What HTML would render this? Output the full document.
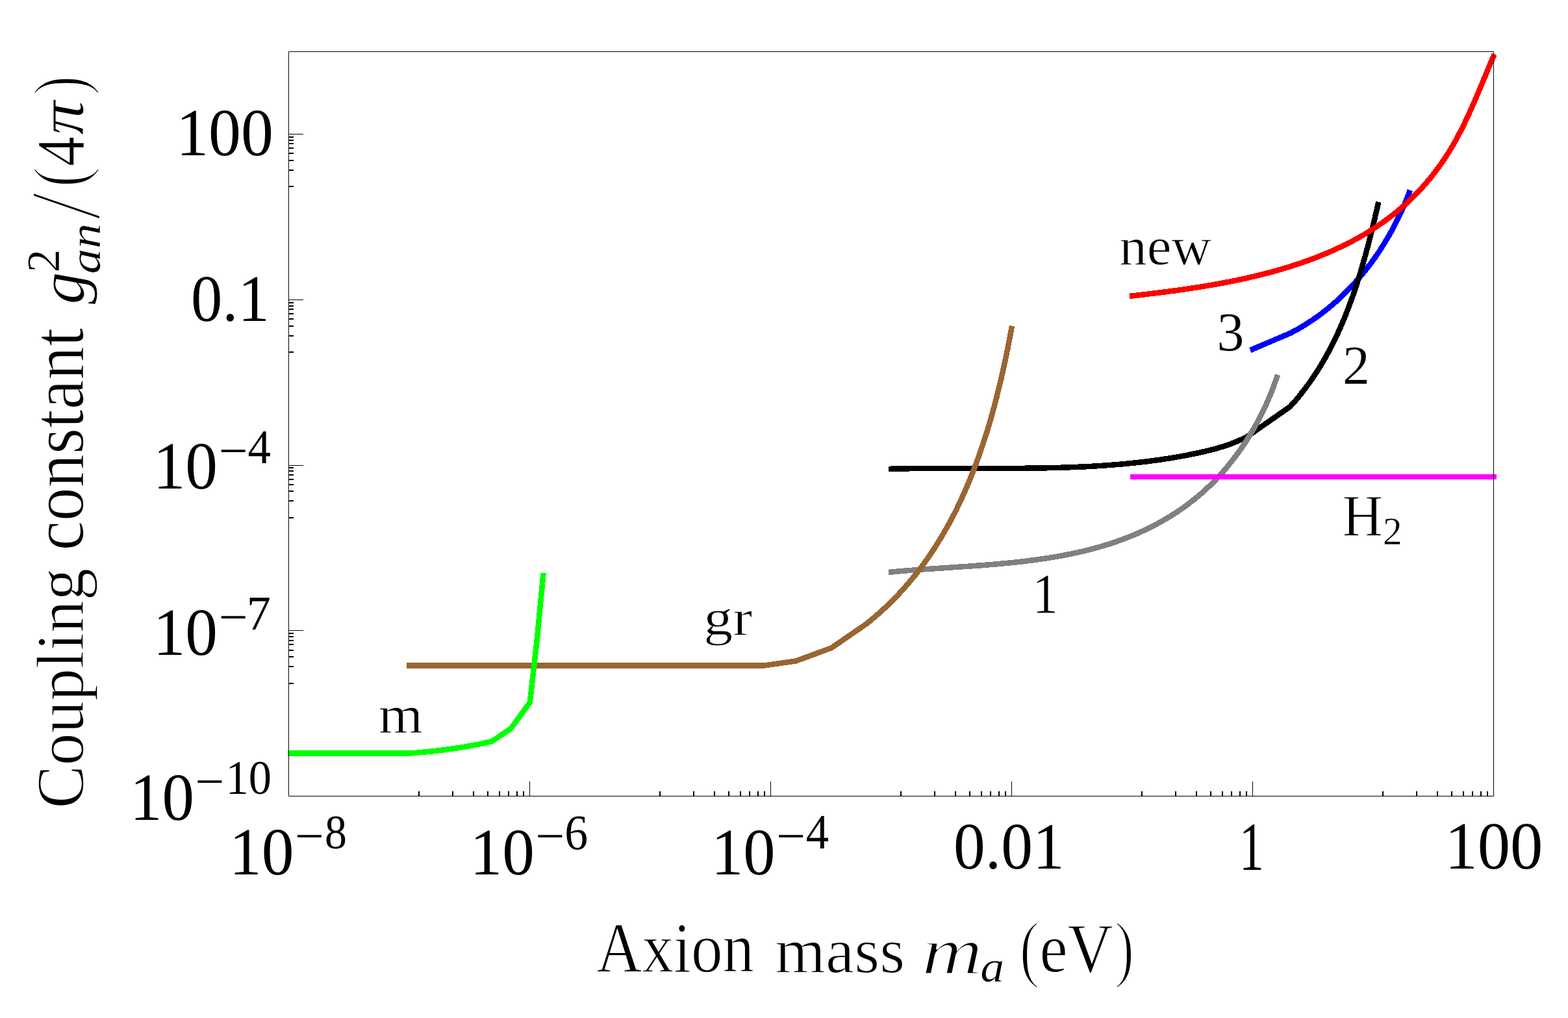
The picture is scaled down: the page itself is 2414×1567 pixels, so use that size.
<!DOCTYPE html><html><head><meta charset="utf-8"><title>Axion coupling constraints</title>
<style>html,body{margin:0;padding:0;background:#fff;overflow:hidden}svg{display:block}text{font-family:"Liberation Serif",serif;fill:#000}</style></head><body>
<svg width="2414" height="1567" viewBox="0 0 2414 1567">
<rect width="2414" height="1567" fill="#fff"/>
<path d="M1924.8,539.1 L1986.9,512.6 L1989.6,511.2 L1992.3,509.7 L1995.0,508.3 L1997.7,506.8 L2000.4,505.3 L2003.0,503.7 L2005.6,502.1 L2008.2,500.6 L2010.8,498.9 L2013.4,497.3 L2016.0,495.6 L2018.5,494.0 L2021.1,492.2 L2023.6,490.5 L2026.1,488.8 L2028.6,487.0 L2031.0,485.2 L2033.5,483.4 L2035.9,481.5 L2038.3,479.7 L2040.7,477.8 L2043.1,475.9 L2045.5,474.0 L2047.8,472.0 L2050.2,470.1 L2052.5,468.1 L2054.8,466.1 L2057.0,464.1 L2059.3,462.0 L2061.6,460.0 L2063.8,457.9 L2066.0,455.8 L2068.2,453.7 L2070.4,451.6 L2072.5,449.4 L2074.7,447.2 L2076.8,445.1 L2078.9,442.9 L2081.0,440.6 L2083.1,438.4 L2085.2,436.1 L2087.2,433.9 L2089.2,431.6 L2091.2,429.3 L2093.2,427.0 L2095.2,424.6 L2097.2,422.3 L2099.1,419.9 L2101.0,417.5 L2102.9,415.2 L2104.8,412.7 L2106.7,410.3 L2108.5,407.9 L2110.4,405.4 L2112.2,403.0 L2114.0,400.5 L2115.8,398.0 L2117.5,395.5 L2119.3,393.0 L2121.0,390.5 L2122.7,387.9 L2124.4,385.4 L2126.1,382.8 L2127.7,380.2 L2129.3,377.6 L2131.0,375.0 L2132.6,372.4 L2134.1,369.8 L2135.7,367.2 L2137.2,364.5 L2138.8,361.9 L2140.3,359.2 L2141.8,356.5 L2143.2,353.8 L2144.7,351.1 L2146.1,348.4 L2147.5,345.7 L2148.9,343.0 L2150.3,340.3 L2151.7,337.5 L2153.0,334.8 L2154.3,332.0 L2155.7,329.3 L2156.9,326.5 L2158.2,323.7 L2159.5,321.0 L2160.7,318.2 L2161.9,315.4 L2163.1,312.6 L2164.3,309.8 L2165.4,307.0 L2166.5,304.1 L2167.7,301.3 L2168.8,298.5 L2169.8,295.6 L2170.9,292.8" fill="none" stroke="#0000ff" stroke-width="8.5" stroke-linejoin="round" stroke-linecap="butt" shape-rendering="crispEdges"/>
<path d="M1368.2,721.9 L1371.2,721.8 L1374.2,721.7 L1377.2,721.7 L1380.2,721.6 L1383.2,721.5 L1386.2,721.5 L1389.2,721.4 L1392.3,721.4 L1395.3,721.3 L1398.3,721.3 L1401.3,721.2 L1404.3,721.2 L1407.3,721.1 L1410.3,721.1 L1413.4,721.1 L1416.4,721.0 L1419.4,721.0 L1422.4,721.0 L1425.4,721.0 L1428.4,720.9 L1431.5,720.9 L1434.5,720.9 L1437.5,720.9 L1440.5,720.9 L1443.6,720.9 L1446.6,720.9 L1449.6,720.9 L1452.6,720.8 L1455.7,720.8 L1458.7,720.8 L1461.7,720.8 L1464.8,720.8 L1467.8,720.8 L1470.8,720.8 L1473.9,720.8 L1476.9,720.8 L1479.9,720.9 L1482.9,720.9 L1486.0,720.9 L1489.0,720.9 L1492.1,720.9 L1495.1,720.9 L1498.1,720.9 L1501.2,720.9 L1504.2,720.9 L1507.2,720.9 L1510.3,720.9 L1513.3,720.9 L1516.3,720.9 L1519.4,720.9 L1522.4,720.9 L1525.4,720.9 L1528.5,720.9 L1531.5,720.9 L1534.6,720.9 L1537.6,720.9 L1540.6,720.9 L1543.7,720.9 L1546.7,720.9 L1549.8,720.9 L1552.8,720.9 L1555.8,720.9 L1558.9,720.9 L1561.9,720.9 L1565.0,720.9 L1568.0,720.8 L1571.0,720.8 L1574.1,720.8 L1577.1,720.8 L1580.1,720.7 L1583.2,720.7 L1586.2,720.7 L1589.3,720.6 L1592.3,720.6 L1595.3,720.6 L1598.4,720.5 L1601.4,720.5 L1604.4,720.4 L1607.5,720.4 L1610.5,720.3 L1613.6,720.2 L1616.6,720.2 L1619.6,720.1 L1622.7,720.0 L1625.7,720.0 L1628.7,719.9 L1631.8,719.8 L1634.8,719.7 L1637.8,719.6 L1640.9,719.5 L1643.9,719.4 L1646.9,719.3 L1650.0,719.2 L1653.0,719.1 L1656.0,718.9 L1659.0,718.8 L1662.1,718.7 L1665.1,718.5 L1668.1,718.4 L1671.2,718.3 L1674.2,718.1 L1677.2,717.9 L1680.2,717.8 L1683.3,717.6 L1686.3,717.4 L1689.3,717.2 L1692.3,717.1 L1695.3,716.9 L1698.4,716.7 L1701.4,716.5 L1704.4,716.2 L1707.4,716.0 L1710.4,715.8 L1713.5,715.6 L1716.5,715.3 L1719.5,715.1 L1722.5,714.8 L1725.5,714.6 L1728.5,714.3 L1731.5,714.0 L1734.5,713.7 L1737.5,713.4 L1740.5,713.1 L1743.6,712.8 L1746.6,712.5 L1749.6,712.2 L1752.6,711.9 L1755.6,711.5 L1758.6,711.2 L1761.6,710.8 L1764.6,710.5 L1767.6,710.1 L1770.5,709.7 L1773.5,709.3 L1776.5,708.9 L1779.5,708.5 L1782.5,708.1 L1785.5,707.7 L1788.5,707.2 L1791.5,706.8 L1794.5,706.3 L1797.4,705.9 L1800.4,705.4 L1803.4,704.9 L1806.4,704.4 L1809.3,703.9 L1812.3,703.4 L1815.3,702.9 L1818.3,702.4 L1821.2,701.8 L1824.2,701.3 L1827.2,700.7 L1830.1,700.1 L1833.1,699.5 L1836.1,698.9 L1839.0,698.3 L1842.0,697.7 L1844.9,697.1 L1847.9,696.4 L1850.8,695.8 L1853.8,695.1 L1856.7,694.4 L1859.7,693.7 L1862.6,693.0 L1865.5,692.3 L1868.4,691.5 L1871.4,690.7 L1874.3,689.9 L1877.2,689.0 L1880.1,688.2 L1883.0,687.3 L1885.8,686.3 L1888.7,685.4 L1891.6,684.4 L1894.4,683.4 L1897.2,682.3 L1900.1,681.2 L1902.9,680.1 L1905.7,678.9 L1908.5,677.7 L1911.3,676.5 L1914.0,675.2 L1916.8,673.9 L1919.5,672.5 L1986.2,625.9 L1988.3,623.6 L1990.3,621.3 L1992.4,619.0 L1994.4,616.7 L1996.4,614.3 L1998.3,612.0 L2000.3,609.6 L2002.2,607.2 L2004.1,604.8 L2006.0,602.4 L2007.8,600.0 L2009.7,597.6 L2011.5,595.1 L2013.3,592.7 L2015.1,590.2 L2016.9,587.7 L2018.6,585.2 L2020.3,582.7 L2022.0,580.2 L2023.7,577.7 L2025.4,575.2 L2027.0,572.6 L2028.7,570.1 L2030.3,567.5 L2031.9,564.9 L2033.5,562.3 L2035.0,559.7 L2036.6,557.1 L2038.1,554.5 L2039.6,551.9 L2041.1,549.2 L2042.6,546.6 L2044.0,543.9 L2045.5,541.3 L2046.9,538.6 L2048.3,535.9 L2049.7,533.2 L2051.1,530.5 L2052.4,527.8 L2053.8,525.1 L2055.1,522.4 L2056.4,519.7 L2057.7,516.9 L2059.0,514.2 L2060.3,511.4 L2061.5,508.6 L2062.8,505.9 L2064.0,503.1 L2065.2,500.3 L2066.4,497.5 L2067.6,494.7 L2068.8,491.9 L2069.9,489.1 L2071.1,486.3 L2072.2,483.5 L2073.3,480.6 L2074.4,477.8 L2075.5,475.0 L2076.6,472.1 L2077.7,469.3 L2078.7,466.4 L2079.8,463.5 L2080.8,460.7 L2081.9,457.8 L2082.9,454.9 L2083.9,452.0 L2084.9,449.1 L2085.8,446.2 L2086.8,443.3 L2087.8,440.4 L2088.7,437.5 L2089.7,434.6 L2090.6,431.7 L2091.5,428.8 L2092.4,425.9 L2093.3,423.0 L2094.2,420.0 L2095.1,417.1 L2096.0,414.2 L2096.9,411.2 L2097.7,408.3 L2098.6,405.4 L2099.4,402.4 L2100.2,399.5 L2101.1,396.5 L2101.9,393.6 L2102.7,390.6 L2103.5,387.7 L2104.3,384.7 L2105.1,381.8 L2105.9,378.8 L2106.6,375.9 L2107.4,372.9 L2108.2,370.0 L2108.9,367.0 L2109.7,364.1 L2110.4,361.1 L2111.2,358.1 L2111.9,355.2 L2112.6,352.2 L2113.4,349.3 L2114.1,346.3 L2114.8,343.4 L2115.5,340.4 L2116.2,337.4 L2116.9,334.5 L2117.6,331.5 L2118.3,328.6 L2119.0,325.6 L2119.7,322.7 L2120.4,319.7 L2121.0,316.8 L2121.7,313.8 L2122.4,310.9" fill="none" stroke="#000000" stroke-width="8.5" stroke-linejoin="round" stroke-linecap="butt" shape-rendering="crispEdges"/>
<path d="M1368.0,880.9 L1370.9,880.6 L1373.9,880.3 L1376.8,880.1 L1379.7,879.8 L1382.7,879.5 L1385.6,879.2 L1388.6,879.0 L1391.5,878.7 L1394.5,878.5 L1397.4,878.2 L1400.4,878.0 L1403.4,877.8 L1406.3,877.5 L1409.3,877.3 L1412.3,877.1 L1415.3,876.9 L1418.3,876.6 L1421.2,876.4 L1424.2,876.2 L1427.2,876.0 L1430.2,875.8 L1433.2,875.6 L1436.2,875.4 L1439.2,875.2 L1442.2,875.0 L1445.2,874.8 L1448.3,874.6 L1451.3,874.4 L1454.3,874.2 L1457.3,874.0 L1460.3,873.8 L1463.4,873.5 L1466.4,873.3 L1469.4,873.1 L1472.4,872.9 L1475.5,872.7 L1478.5,872.5 L1481.5,872.3 L1484.6,872.1 L1487.6,871.9 L1490.6,871.7 L1493.7,871.5 L1496.7,871.3 L1499.7,871.0 L1502.8,870.8 L1505.8,870.6 L1508.8,870.4 L1511.9,870.1 L1514.9,869.9 L1518.0,869.7 L1521.0,869.4 L1524.0,869.2 L1527.1,868.9 L1530.1,868.7 L1533.1,868.4 L1536.2,868.1 L1539.2,867.9 L1542.3,867.6 L1545.3,867.3 L1548.3,867.0 L1551.4,866.7 L1554.4,866.4 L1557.4,866.1 L1560.5,865.8 L1563.5,865.5 L1566.5,865.1 L1569.5,864.8 L1572.6,864.5 L1575.6,864.1 L1578.6,863.8 L1581.6,863.4 L1584.6,863.0 L1587.7,862.6 L1590.7,862.2 L1593.7,861.8 L1596.7,861.4 L1599.7,861.0 L1602.7,860.6 L1605.7,860.1 L1608.7,859.7 L1611.7,859.2 L1614.7,858.8 L1617.7,858.3 L1620.7,857.8 L1623.7,857.3 L1626.6,856.8 L1629.6,856.3 L1632.6,855.7 L1635.6,855.2 L1638.5,854.6 L1641.5,854.0 L1644.4,853.5 L1647.4,852.9 L1650.3,852.3 L1653.3,851.6 L1656.2,851.0 L1659.2,850.4 L1662.1,849.7 L1665.0,849.0 L1668.0,848.3 L1670.9,847.6 L1673.8,846.9 L1676.7,846.2 L1679.6,845.4 L1682.5,844.7 L1685.4,843.9 L1688.3,843.1 L1691.2,842.3 L1694.1,841.5 L1696.9,840.6 L1699.8,839.8 L1702.7,838.9 L1705.5,838.0 L1708.4,837.1 L1711.2,836.2 L1714.1,835.3 L1716.9,834.3 L1719.7,833.3 L1722.5,832.3 L1725.3,831.3 L1728.2,830.3 L1731.0,829.2 L1733.7,828.2 L1736.5,827.1 L1739.3,826.0 L1742.1,824.9 L1744.8,823.7 L1747.6,822.6 L1750.4,821.4 L1753.1,820.2 L1755.8,819.0 L1758.6,817.7 L1761.3,816.5 L1764.0,815.2 L1766.7,813.9 L1769.4,812.6 L1772.1,811.2 L1774.8,809.9 L1777.4,808.5 L1780.1,807.1 L1782.7,805.6 L1785.4,804.2 L1788.0,802.7 L1790.6,801.3 L1793.2,799.7 L1795.8,798.2 L1798.4,796.7 L1801.0,795.1 L1803.5,793.5 L1806.1,791.9 L1808.6,790.3 L1811.1,788.7 L1813.6,787.0 L1816.1,785.3 L1818.6,783.6 L1821.1,781.9 L1823.5,780.1 L1826.0,778.4 L1828.4,776.6 L1830.8,774.8 L1833.2,772.9 L1835.6,771.1 L1837.9,769.2 L1840.3,767.3 L1842.6,765.4 L1844.9,763.5 L1847.2,761.6 L1849.5,759.6 L1851.8,757.6 L1854.0,755.6 L1856.2,753.6 L1858.4,751.5 L1860.6,749.4 L1862.8,747.4 L1865.0,745.2 L1867.1,743.1 L1869.2,741.0 L1871.3,738.8 L1873.4,736.6 L1875.5,734.4 L1877.5,732.2 L1879.6,729.9 L1881.6,727.7 L1883.6,725.4 L1885.5,723.1 L1887.5,720.8 L1889.4,718.5 L1891.3,716.2 L1893.2,713.8 L1895.1,711.5 L1897.0,709.1 L1898.8,706.7 L1900.7,704.3 L1902.5,701.9 L1904.3,699.5 L1906.1,697.1 L1907.8,694.6 L1909.6,692.2 L1911.3,689.7 L1913.0,687.2 L1914.7,684.7 L1916.4,682.2 L1918.0,679.7 L1919.7,677.2 L1921.3,674.6 L1922.9,672.1 L1924.5,669.5 L1926.0,666.9 L1927.6,664.3 L1929.1,661.8 L1930.6,659.1 L1932.1,656.5 L1933.5,653.9 L1935.0,651.3 L1936.4,648.6 L1937.8,646.0 L1939.2,643.3 L1940.6,640.6 L1942.0,637.9 L1943.3,635.3 L1944.6,632.5 L1945.9,629.8 L1947.2,627.1 L1948.5,624.4 L1949.7,621.7 L1950.9,618.9 L1952.2,616.2 L1953.3,613.4 L1954.5,610.6 L1955.7,607.8 L1956.8,605.1 L1957.9,602.3 L1959.0,599.5 L1960.1,596.7 L1961.1,593.8 L1962.1,591.0 L1963.1,588.2 L1964.1,585.3 L1965.1,582.5 L1966.1,579.7 L1967.0,576.8" fill="none" stroke="#808080" stroke-width="8.5" stroke-linejoin="round" stroke-linecap="butt" shape-rendering="crispEdges"/>
<path d="M626.0,1024.7 L1175.2,1024.7 L1225.6,1017.4 L1280.3,997.2 L1333.3,960.7 L1335.7,958.8 L1338.1,956.8 L1340.5,954.9 L1342.9,952.9 L1345.3,950.9 L1347.6,948.9 L1349.9,946.9 L1352.2,944.9 L1354.5,942.9 L1356.8,940.8 L1359.1,938.8 L1361.3,936.7 L1363.5,934.6 L1365.7,932.5 L1367.9,930.4 L1370.1,928.3 L1372.3,926.2 L1374.4,924.0 L1376.5,921.9 L1378.7,919.7 L1380.8,917.5 L1382.8,915.3 L1384.9,913.1 L1386.9,910.9 L1389.0,908.7 L1391.0,906.4 L1393.0,904.2 L1395.0,901.9 L1397.0,899.7 L1398.9,897.4 L1400.8,895.1 L1402.8,892.8 L1404.7,890.4 L1406.6,888.1 L1408.5,885.8 L1410.3,883.4 L1412.2,881.1 L1414.0,878.7 L1415.8,876.3 L1417.6,873.9 L1419.4,871.5 L1421.2,869.1 L1423.0,866.7 L1424.7,864.3 L1426.5,861.8 L1428.2,859.4 L1429.9,856.9 L1431.6,854.4 L1433.2,851.9 L1434.9,849.5 L1436.6,847.0 L1438.2,844.5 L1439.8,841.9 L1441.4,839.4 L1443.0,836.9 L1444.6,834.3 L1446.2,831.8 L1447.7,829.2 L1449.3,826.7 L1450.8,824.1 L1452.3,821.5 L1453.8,818.9 L1455.3,816.3 L1456.8,813.7 L1458.3,811.1 L1459.7,808.4 L1461.2,805.8 L1462.6,803.2 L1464.0,800.5 L1465.4,797.9 L1466.8,795.2 L1468.2,792.5 L1469.6,789.9 L1470.9,787.2 L1472.3,784.5 L1473.6,781.8 L1474.9,779.1 L1476.2,776.4 L1477.5,773.6 L1478.8,770.9 L1480.1,768.2 L1481.3,765.4 L1482.6,762.7 L1483.8,759.9 L1485.0,757.2 L1486.3,754.4 L1487.5,751.7 L1488.7,748.9 L1489.8,746.1 L1491.0,743.3 L1492.2,740.5 L1493.3,737.7 L1494.5,734.9 L1495.6,732.1 L1496.7,729.3 L1497.8,726.5 L1498.9,723.7 L1500.0,720.8 L1501.1,718.0 L1502.2,715.2 L1503.2,712.3 L1504.3,709.5 L1505.3,706.6 L1506.3,703.8 L1507.4,700.9 L1508.4,698.1 L1509.4,695.2 L1510.4,692.3 L1511.3,689.5 L1512.3,686.6 L1513.3,683.7 L1514.2,680.8 L1515.2,677.9 L1516.1,675.0 L1517.0,672.1 L1518.0,669.2 L1518.9,666.3 L1519.8,663.4 L1520.7,660.5 L1521.5,657.6 L1522.4,654.7 L1523.3,651.8 L1524.1,648.9 L1525.0,645.9 L1525.8,643.0 L1526.7,640.1 L1527.5,637.2 L1528.3,634.2 L1529.1,631.3 L1529.9,628.4 L1530.7,625.4 L1531.5,622.5 L1532.3,619.5 L1533.0,616.6 L1533.8,613.7 L1534.6,610.7 L1535.3,607.8 L1536.0,604.8 L1536.8,601.9 L1537.5,598.9 L1538.2,596.0 L1538.9,593.0 L1539.6,590.1 L1540.3,587.1 L1541.0,584.2 L1541.7,581.2 L1542.4,578.3 L1543.1,575.3 L1543.7,572.4 L1544.4,569.4 L1545.0,566.5 L1545.7,563.5 L1546.3,560.6 L1547.0,557.6 L1547.6,554.7 L1548.2,551.7 L1548.8,548.8 L1549.5,545.8 L1550.1,542.9 L1550.7,539.9 L1551.3,537.0 L1551.8,534.0 L1552.4,531.1 L1553.0,528.1 L1553.6,525.2 L1554.2,522.2 L1554.7,519.3 L1555.3,516.4 L1555.8,513.4 L1556.4,510.5 L1556.9,507.6 L1557.5,504.6 L1558.0,501.7" fill="none" stroke="#996633" stroke-width="8.5" stroke-linejoin="round" stroke-linecap="butt" shape-rendering="crispEdges"/>
<path d="M443.0,1159.4 L632.3,1159.4 L635.4,1159.2 L638.4,1158.9 L641.5,1158.7 L644.6,1158.4 L647.7,1158.1 L650.7,1157.8 L653.8,1157.6 L656.9,1157.3 L659.9,1156.9 L663.0,1156.6 L666.1,1156.3 L669.1,1156.0 L672.2,1155.6 L675.3,1155.2 L678.3,1154.9 L681.4,1154.5 L684.5,1154.1 L687.5,1153.7 L690.6,1153.3 L693.6,1152.9 L696.7,1152.4 L699.7,1152.0 L702.8,1151.5 L705.8,1151.1 L708.9,1150.6 L711.9,1150.1 L715.0,1149.6 L718.0,1149.1 L721.0,1148.5 L724.1,1148.0 L727.1,1147.4 L730.1,1146.9 L733.2,1146.3 L736.2,1145.7 L739.2,1145.1 L742.2,1144.5 L745.3,1143.9 L748.3,1143.2 L751.3,1142.6 L754.3,1141.9 L757.3,1141.2 L786.5,1121.5 L815.8,1081.2 L826.8,984.3 L836.6,882.0" fill="none" stroke="#00ff00" stroke-width="8.5" stroke-linejoin="round" stroke-linecap="butt" shape-rendering="crispEdges"/>
<path d="M1738.8,455.9 L1741.7,455.6 L1744.5,455.3 L1747.4,454.9 L1750.3,454.6 L1753.2,454.3 L1756.1,453.9 L1759.0,453.6 L1761.9,453.3 L1764.8,452.9 L1767.7,452.6 L1770.6,452.2 L1773.5,451.9 L1776.5,451.5 L1779.4,451.1 L1782.3,450.8 L1785.3,450.4 L1788.2,450.0 L1791.2,449.7 L1794.1,449.3 L1797.1,448.9 L1800.0,448.5 L1803.0,448.1 L1806.0,447.7 L1809.0,447.3 L1811.9,446.9 L1814.9,446.5 L1817.9,446.1 L1820.9,445.6 L1823.9,445.2 L1826.9,444.8 L1829.9,444.3 L1832.8,443.9 L1835.8,443.4 L1838.8,443.0 L1841.8,442.5 L1844.9,442.1 L1847.9,441.6 L1850.9,441.1 L1853.9,440.6 L1856.9,440.1 L1859.9,439.6 L1862.9,439.1 L1865.9,438.6 L1868.9,438.0 L1871.9,437.5 L1874.9,437.0 L1878.0,436.4 L1881.0,435.9 L1884.0,435.3 L1887.0,434.7 L1890.0,434.2 L1893.0,433.6 L1896.0,433.0 L1899.0,432.4 L1902.0,431.8 L1905.0,431.1 L1908.0,430.5 L1911.0,429.9 L1914.0,429.2 L1917.0,428.6 L1920.0,427.9 L1923.0,427.2 L1926.0,426.5 L1929.0,425.8 L1932.0,425.1 L1935.0,424.4 L1938.0,423.7 L1940.9,422.9 L1943.9,422.2 L1946.9,421.4 L1949.9,420.7 L1952.8,419.9 L1955.8,419.1 L1958.8,418.3 L1961.7,417.5 L1964.7,416.7 L1967.6,415.9 L1970.5,415.0 L1973.5,414.2 L1976.4,413.3 L1979.3,412.4 L1982.3,411.5 L1985.2,410.6 L1988.1,409.7 L1991.0,408.8 L1993.9,407.8 L1996.8,406.9 L1999.7,405.9 L2002.6,405.0 L2005.4,404.0 L2008.3,403.0 L2011.2,401.9 L2014.0,400.9 L2016.9,399.9 L2019.7,398.8 L2022.6,397.8 L2025.4,396.7 L2028.2,395.6 L2031.0,394.5 L2033.8,393.3 L2036.6,392.2 L2039.4,391.1 L2042.2,389.9 L2045.0,388.7 L2047.7,387.5 L2050.5,386.3 L2053.2,385.1 L2056.0,383.8 L2058.7,382.6 L2061.4,381.3 L2064.1,380.0 L2066.8,378.7 L2069.5,377.4 L2072.2,376.1 L2074.9,374.7 L2077.6,373.4 L2080.2,372.0 L2082.9,370.6 L2085.5,369.2 L2088.1,367.8 L2090.7,366.3 L2093.3,364.9 L2095.9,363.4 L2098.5,361.9 L2101.1,360.4 L2103.6,358.8 L2106.2,357.3 L2108.7,355.7 L2111.2,354.1 L2113.7,352.5 L2116.2,350.9 L2118.7,349.3 L2121.2,347.6 L2123.6,346.0 L2126.1,344.3 L2128.5,342.6 L2130.9,340.9 L2133.4,339.1 L2135.7,337.3 L2138.1,335.6 L2140.5,333.8 L2142.9,331.9 L2145.2,330.1 L2147.5,328.2 L2149.8,326.4 L2152.1,324.5 L2154.4,322.6 L2156.7,320.6 L2158.9,318.7 L2161.2,316.7 L2163.4,314.7 L2165.6,312.7 L2167.8,310.7 L2170.0,308.6 L2172.1,306.5 L2174.3,304.4 L2176.4,302.3 L2178.5,300.2 L2180.6,298.1 L2182.7,295.9 L2184.8,293.7 L2186.8,291.5 L2188.8,289.3 L2190.9,287.1 L2192.9,284.8 L2194.8,282.6 L2196.8,280.3 L2198.7,278.0 L2200.7,275.7 L2202.6,273.4 L2204.5,271.0 L2206.3,268.7 L2208.2,266.3 L2210.0,263.9 L2211.8,261.5 L2213.6,259.1 L2215.4,256.6 L2217.2,254.2 L2218.9,251.7 L2220.6,249.2 L2222.4,246.7 L2224.0,244.2 L2225.7,241.7 L2227.3,239.1 L2229.0,236.6 L2230.6,234.0 L2232.2,231.4 L2233.7,228.9 L2235.3,226.2 L2236.8,223.6 L2238.3,221.0 L2239.8,218.4 L2241.3,215.7 L2242.7,213.0 L2244.2,210.4 L2245.6,207.7 L2247.0,205.0 L2248.4,202.3 L2249.8,199.6 L2251.2,196.9 L2252.5,194.2 L2253.9,191.4 L2255.2,188.7 L2256.5,185.9 L2257.8,183.2 L2259.1,180.4 L2260.4,177.7 L2261.7,174.9 L2262.9,172.1 L2264.2,169.4 L2265.4,166.6 L2266.6,163.8 L2267.9,161.0 L2269.1,158.2 L2270.3,155.5 L2271.5,152.7 L2272.7,149.9 L2273.9,147.1 L2275.1,144.3 L2276.3,141.5 L2277.5,138.7 L2278.6,135.9 L2279.8,133.1 L2281.0,130.3 L2282.1,127.5 L2283.3,124.7 L2284.4,122.0 L2285.6,119.2 L2286.8,116.4 L2287.9,113.6 L2289.1,110.9 L2290.2,108.1 L2291.4,105.3 L2292.5,102.6 L2293.7,99.8 L2294.8,97.1 L2296.0,94.4 L2297.2,91.6 L2298.3,88.9 L2299.5,86.2 L2300.7,83.5" fill="none" stroke="#ff0000" stroke-width="8.5" stroke-linejoin="round" stroke-linecap="butt" shape-rendering="crispEdges"/>
<path d="M1739.5,733.9 L2304.0,733.9" fill="none" stroke="#ff00ff" stroke-width="8.5" stroke-linejoin="round" stroke-linecap="butt" shape-rendering="crispEdges"/>
<path d="M444.5,79.5 H2299.5 V1225.5 H444.5 Z" fill="none" stroke="#000" stroke-width="1"/>
<path d="M815.5,1225.5 V1203.0 M1186.5,1225.5 V1203.0 M1557.5,1225.5 V1203.0 M1928.5,1225.5 V1203.0" stroke="#000" stroke-width="1" fill="none"/>
<path d="M645.0,1225.5 V1218.0 M697.0,1225.5 V1218.0 M729.0,1225.5 V1218.0 M751.0,1225.5 V1218.0 M769.0,1225.5 V1218.0 M783.0,1225.5 V1218.0 M796.0,1225.5 V1218.0 M806.0,1225.5 V1218.0 M1016.0,1225.5 V1218.0 M1068.0,1225.5 V1218.0 M1100.0,1225.5 V1218.0 M1122.0,1225.5 V1218.0 M1140.0,1225.5 V1218.0 M1154.0,1225.5 V1218.0 M1167.0,1225.5 V1218.0 M1177.0,1225.5 V1218.0 M1387.0,1225.5 V1218.0 M1439.0,1225.5 V1218.0 M1471.0,1225.5 V1218.0 M1493.0,1225.5 V1218.0 M1511.0,1225.5 V1218.0 M1525.0,1225.5 V1218.0 M1538.0,1225.5 V1218.0 M1548.0,1225.5 V1218.0 M1758.0,1225.5 V1218.0 M1810.0,1225.5 V1218.0 M1842.0,1225.5 V1218.0 M1864.0,1225.5 V1218.0 M1882.0,1225.5 V1218.0 M1896.0,1225.5 V1218.0 M1909.0,1225.5 V1218.0 M1919.0,1225.5 V1218.0 M2129.0,1225.5 V1218.0 M2181.0,1225.5 V1218.0 M2213.0,1225.5 V1218.0 M2235.0,1225.5 V1218.0 M2253.0,1225.5 V1218.0 M2267.0,1225.5 V1218.0 M2280.0,1225.5 V1218.0 M2290.0,1225.5 V1218.0" stroke="#000" stroke-width="2" fill="none"/>
<path d="M444.5,206.5 H467.0 M444.5,461.5 H467.0 M444.5,716.5 H467.0 M444.5,970.5 H467.0" stroke="#000" stroke-width="1" fill="none"/>
<path d="M444.5,287.0 H452.0 M444.5,262.0 H452.0 M444.5,247.0 H452.0 M444.5,236.0 H452.0 M444.5,228.0 H452.0 M444.5,221.0 H452.0 M444.5,216.0 H452.0 M444.5,211.0 H452.0 M444.5,542.0 H452.0 M444.5,517.0 H452.0 M444.5,502.0 H452.0 M444.5,491.0 H452.0 M444.5,483.0 H452.0 M444.5,476.0 H452.0 M444.5,471.0 H452.0 M444.5,466.0 H452.0 M444.5,797.0 H452.0 M444.5,771.0 H452.0 M444.5,756.0 H452.0 M444.5,746.0 H452.0 M444.5,738.0 H452.0 M444.5,731.0 H452.0 M444.5,725.0 H452.0 M444.5,720.0 H452.0 M444.5,1052.0 H452.0 M444.5,1026.0 H452.0 M444.5,1011.0 H452.0 M444.5,1001.0 H452.0 M444.5,992.0 H452.0 M444.5,986.0 H452.0 M444.5,980.0 H452.0 M444.5,975.0 H452.0" stroke="#000" stroke-width="2" fill="none"/>
<text font-size="200" transform="matrix(0.49891,0,0,0.51481,271.22,239.47)">100</text>
<text font-size="200" transform="matrix(0.48304,0,0,0.50956,294.04,494.07)">0.1</text>
<text font-size="200" transform="matrix(0.49713,0,0,0.51630,235.65,752.47)">10</text>
<text font-size="200" transform="matrix(0.39677,0,0,0.39000,336.63,719.84)">−</text>
<text font-size="200" transform="matrix(0.35484,0,0,0.37538,381.38,713.18)">4</text>
<text font-size="200" transform="matrix(0.49713,0,0,0.51630,235.65,1007.67)">10</text>
<text font-size="200" transform="matrix(0.39677,0,0,0.39000,336.63,976.14)">−</text>
<text font-size="200" transform="matrix(0.37160,0,0,0.37231,379.77,969.07)">7</text>
<text font-size="200" transform="matrix(0.49483,0,0,0.51481,199.99,1262.37)">10</text>
<text font-size="200" transform="matrix(0.39677,0,0,0.39000,300.53,1228.79)">−</text>
<text font-size="200" transform="matrix(0.35287,0,0,0.36741,347.55,1221.77)">10</text>
<text font-size="200" transform="matrix(0.49770,0,0,0.51333,352.94,1345.77)">10</text>
<text font-size="200" transform="matrix(0.39677,0,0,0.39000,454.03,1312.69)">−</text>
<text font-size="200" transform="matrix(0.33929,0,0,0.37037,500.09,1306.06)">8</text>
<text font-size="200" transform="matrix(0.49713,0,0,0.51333,723.45,1345.77)">10</text>
<text font-size="200" transform="matrix(0.39677,0,0,0.39000,824.43,1312.69)">−</text>
<text font-size="200" transform="matrix(0.35882,0,0,0.37687,869.27,1306.55)">6</text>
<text font-size="200" transform="matrix(0.49310,0,0,0.51333,1095.02,1345.77)">10</text>
<text font-size="200" transform="matrix(0.39677,0,0,0.39000,1195.23,1312.69)">−</text>
<text font-size="200" transform="matrix(0.35376,0,0,0.37538,1240.68,1305.98)">4</text>
<text font-size="200" transform="matrix(0.48758,0,0,0.51103,1468.00,1337.47)">0.01</text>
<text font-size="200" transform="matrix(0.38286,0,0,0.52977,1907.81,1338.50)">1</text>
<text font-size="200" transform="matrix(0.50292,0,0,0.51407,2224.55,1337.47)">100</text>
<text font-size="200" transform="matrix(0.43986,0,0,0.41596,582.74,1127.50)" stroke="#fff" stroke-width="1.0" vector-effect="non-scaling-stroke">m</text>
<text font-size="200" transform="matrix(0.44936,0,0,0.39241,1083.36,976.92)" stroke="#fff" stroke-width="1.0" vector-effect="non-scaling-stroke">gr</text>
<text font-size="200" transform="matrix(0.39143,0,0,0.42901,1589.80,942.95)" stroke="#fff" stroke-width="0.3" vector-effect="non-scaling-stroke">1</text>
<text font-size="200" transform="matrix(0.41750,0,0,0.42576,2067.09,591.05)" stroke="#fff" stroke-width="0.3" vector-effect="non-scaling-stroke">2</text>
<text font-size="200" transform="matrix(0.41951,0,0,0.42687,1873.55,540.20)" stroke="#fff" stroke-width="0.3" vector-effect="non-scaling-stroke">3</text>
<text font-size="200" transform="matrix(0.42569,0,0,0.41667,1723.17,406.77)" stroke="#fff" stroke-width="1.0" vector-effect="non-scaling-stroke">new</text>
<text font-size="200" transform="matrix(0.43083,0,0,0.45038,2066.82,825.40)" stroke="#fff" stroke-width="1.0" vector-effect="non-scaling-stroke">H</text>
<text font-size="200" transform="matrix(0.29625,0,0,0.30227,2128.88,838.35)" stroke="#fff" stroke-width="0.5" vector-effect="non-scaling-stroke">2</text>
<text font-size="200" transform="matrix(0.48586,0,0,0.55373,918.23,1496.39)" stroke="#fff" stroke-width="1.4" vector-effect="non-scaling-stroke">Axion</text>
<text font-size="200" transform="matrix(0.49974,0,0,0.49271,1193.20,1496.51)" stroke="#fff" stroke-width="1.4" vector-effect="non-scaling-stroke">mass</text>
<text font-size="200" font-style="italic" transform="matrix(0.65039,0,0,0.52258,1418.95,1498.92)" stroke="#fff" stroke-width="2.6" vector-effect="non-scaling-stroke">m</text>
<text font-size="200" font-style="italic" transform="matrix(0.36860,0,0,0.33750,1509.34,1511.48)" stroke="#fff" stroke-width="0.5" vector-effect="non-scaling-stroke">a</text>
<text font-size="200" transform="matrix(0.46275,0,0,0.57500,1569.44,1497.95)" stroke="#fff" stroke-width="2.8" vector-effect="non-scaling-stroke">(</text>
<text font-size="200" transform="matrix(0.48565,0,0,0.54361,1600.41,1495.87)" stroke="#fff" stroke-width="1.4" vector-effect="non-scaling-stroke">eV</text>
<text font-size="200" transform="matrix(0.45769,0,0,0.57500,1715.75,1497.95)" stroke="#fff" stroke-width="2.8" vector-effect="non-scaling-stroke">)</text>
<text font-size="200" transform="matrix(0,-0.49714,0.51944,0,127.78,1244.58)" stroke="#fff" stroke-width="1.4" vector-effect="non-scaling-stroke">Coupling</text>
<text font-size="200" transform="matrix(0,-0.51476,0.57632,0,128.45,847.62)" stroke="#fff" stroke-width="1.4" vector-effect="non-scaling-stroke">constant</text>
<text font-size="200" font-style="italic" transform="matrix(0,-0.50000,0.49191,0,128.74,468.60)" stroke="#fff" stroke-width="1.0" vector-effect="non-scaling-stroke">g</text>
<text font-size="200" transform="matrix(0,-0.35875,0.35833,0,91.15,419.48)" stroke="#fff" stroke-width="0.5" vector-effect="non-scaling-stroke">2</text>
<text font-size="200" font-style="italic" transform="matrix(0,-0.39086,0.34063,0,153.57,421.80)" stroke="#fff" stroke-width="0.5" vector-effect="non-scaling-stroke">an</text>
<text font-size="200" transform="matrix(0,-0.78727,0.78797,0,153.32,339.00)" stroke="#fff" stroke-width="4.2" vector-effect="non-scaling-stroke">/</text>
<text font-size="200" transform="matrix(0,-0.47255,0.57444,0,130.07,288.25)" stroke="#fff" stroke-width="2.8" vector-effect="non-scaling-stroke">(</text>
<text font-size="200" transform="matrix(0,-0.46452,0.53462,0,129.13,256.26)" stroke="#fff" stroke-width="1.4" vector-effect="non-scaling-stroke">4</text>
<text font-size="200" font-style="italic" transform="matrix(0,-0.52596,0.49247,0,128.42,207.63)" stroke="#fff" stroke-width="1.0" vector-effect="non-scaling-stroke">π</text>
<text font-size="200" transform="matrix(0,-0.45385,0.57444,0,130.07,146.82)" stroke="#fff" stroke-width="2.8" vector-effect="non-scaling-stroke">)</text>
</svg></body></html>
